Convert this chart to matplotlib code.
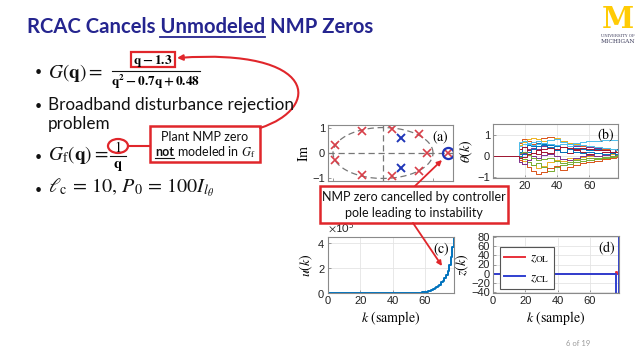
import matplotlib
matplotlib.use('Agg')
import matplotlib.pyplot as plt
from matplotlib.patches import Rectangle, Ellipse, FancyArrowPatch
from matplotlib.path import Path
from matplotlib.lines import Line2D
from matplotlib.transforms import Affine2D
import numpy as np

plt.rcParams['mathtext.fontset'] = 'stix'
plt.rcParams['font.family'] = ['Lato', 'DejaVu Sans']

# ---------------- data ----------------
# (a) pole-zero map
plant_pole_re = [0.35, 0.35]
plant_pole_im = [0.598, -0.598]
plant_zero_re = [1.3]
plant_zero_im = [0.0]
ctrl_pole_re = [-0.96, -0.96, -0.43, -0.43, 0.17, 0.17, 0.71, 0.71, 0.87, 1.3]
ctrl_pole_im = [0.33, -0.27, 0.86, -0.85, 0.95, -0.91, 0.76, -0.72, 0.0, 0.0]

# (b) controller coefficients theta(k), step values at breakpoints
theta_k = [0, 14, 16, 18, 21, 24, 27, 30, 34, 38, 42, 46, 50, 54, 58, 63, 68, 73, 76, 77, 78]
theta_series = [
    [0, 0, 0.2, 0.4, 0.5, 0.45, 0.6, 0.55, 0.5, 0.45, 0.4, 0.3, 0.35, 0.3, 0.25, 0.3, 0.25, 0.2, 0.25, 0.3, 1.3],
    [0, 0, 0.6, 0.8, 0.7, 0.55, 0.7, 0.85, 0.9, 0.8, 0.7, 0.6, 0.5, 0.45, 0.4, 0.35, 0.3, 0.3, 0.25, 0.2, -0.9],
    [0, 0, -0.1, -0.25, -0.3, -0.45, -0.6, -0.5, -0.3, -0.2, -0.25, -0.1, -0.15, -0.05, 0.0, 0.0, 0.05, 0.1, 0.05, 0.1, 0.5],
    [0, 0, 0.1, 0.15, 0.3, 0.35, 0.3, 0.45, 0.55, 0.5, 0.4, 0.3, 0.45, 0.5, 0.4, 0.35, 0.35, 0.3, 0.25, 0.25, -0.4],
    [0, 0, -0.05, -0.15, -0.3, -0.45, -0.35, -0.55, -0.7, -0.55, -0.45, -0.4, -0.3, -0.25, -0.2, -0.15, -0.1, -0.05, 0.0, 0.0, 0.7],
    [0, 0, 0.45, 0.55, 0.6, 0.5, 0.55, 0.6, 0.55, 0.5, 0.55, 0.45, 0.5, 0.65, 0.7, 0.72, 0.75, 0.75, 0.75, 0.75, 0.75],
    [0, 0, 0.3, 0.4, 0.25, 0.15, 0.1, 0.3, 0.35, 0.25, 0.2, 0.15, 0.25, 0.2, 0.1, 0.15, 0.2, 0.15, 0.1, 0.1, -0.6],
    [0, 0, 0.0, 0.1, 0.2, 0.3, 0.45, 0.5, 0.4, 0.25, 0.2, 0.3, 0.2, 0.15, 0.2, 0.15, 0.1, 0.15, 0.1, 0.1, 0.9],
    [0, 0, -0.2, -0.4, -0.55, -0.7, -0.85, -0.75, -0.6, -0.5, -0.65, -0.55, -0.45, -0.35, -0.3, -0.25, -0.15, -0.1, -0.1, -0.05, 0.3],
    [0, 0, 0.5, 0.65, 0.8, 0.85, 0.8, 0.7, 0.75, 0.85, 0.7, 0.6, 0.55, 0.5, 0.45, 0.4, 0.35, 0.3, 0.3, 0.25, 1.1],
    [0, 0, -0.3, -0.4, -0.2, 0.0, -0.1, 0.05, 0.1, 0.0, -0.15, -0.2, -0.1, 0.0, 0.05, 0.0, 0.05, 0.0, 0.05, 0.05, -0.7],
    [0, 0, 0.15, 0.2, 0.05, -0.1, -0.2, -0.15, -0.1, -0.25, -0.35, -0.3, -0.2, -0.15, -0.1, -0.1, -0.05, 0.0, 0.0, 0.05, 0.2],
    [0, 0, 0.65, 0.7, 0.55, 0.65, 0.7, 0.6, 0.75, 0.8, 0.65, 0.55, 0.6, 0.5, 0.45, 0.4, 0.35, 0.3, 0.3, 0.25, -0.3],
    [0, 0, -0.1, -0.05, 0.1, 0.15, 0.25, 0.2, 0.15, 0.3, 0.4, 0.35, 0.3, 0.35, 0.3, 0.25, 0.25, 0.2, 0.2, 0.2, 0.5],
]

# (c) control input u(k)
u_k = [0, 50, 52, 54, 56, 58, 60, 61, 62, 63, 64, 65, 66, 67, 68, 69, 70,
       71, 72, 73, 74, 75, 76, 77, 78]
u_val = [0, 0, 2000, 3000, 4000, 6000, 9000, 12000, 15000, 19000, 24000, 30000,
         37000, 45000, 55000, 68000, 85000, 100000, 120000, 145000, 180000,
         225000, 290000, 370000, 450000]

# (d) performance z(k)
z_k = [0, 75, 76, 77, 78]
z_ol = [0, 0, 3, 0, 0]
z_cl = [0, 0, -45, -45, 85]

matlab_colors = ['#0072BD', '#D95319', '#EDB120', '#7E2F8E', '#77AC30', '#4DBEEE', '#A2142F']

# ---------------- figure ----------------
W, H = 638, 359
fig = plt.figure(figsize=(W / 100, H / 100), dpi=100)
fig.patch.set_facecolor('white')
tpx = Affine2D().scale(1, -1).translate(0, H)  # pixel coords, y from top

RED = '#E0262B'
TITLE = '#25258F'

def axrect(l, t, r, b):
    return [l / W, 1 - b / H, (r - l) / W, (b - t) / H]

def style(ax, grid=True):
    for s in ax.spines.values():
        s.set_color('#8a8a8a')
        s.set_linewidth(0.8)
    ax.tick_params(direction='in', length=2.5, width=0.6, colors='#8a8a8a',
                   labelcolor='#222222', labelsize=8, pad=2)
    for lab in ax.get_xticklabels() + ax.get_yticklabels():
        lab.set_family('Liberation Sans')
    if grid:
        ax.grid(True, color='#e4e4e4', lw=0.6)
        ax.set_axisbelow(True)

lblkw = dict(fontsize=10)

# (a)
axa = fig.add_axes(axrect(328, 125, 453, 181))
tt = np.linspace(0, 2 * np.pi, 200)
axa.plot(np.cos(tt), np.sin(tt), ls=(0, (5, 3)), color='#777777', lw=0.9)
axa.axhline(0, ls=(0, (5, 3)), color='#777777', lw=0.9)
axa.axvline(0, ls=(0, (5, 3)), color='#777777', lw=0.9)
axa.plot(ctrl_pole_re, ctrl_pole_im, 'x', color='#D8404A', ms=6, mew=1.2)
axa.plot(plant_pole_re, plant_pole_im, 'x', color='#2036B8', ms=6, mew=1.4)
axa.plot(plant_zero_re, plant_zero_im, 'o', mfc='none', mec='#2036B8', ms=8, mew=1.6)
axa.set_xlim(-1.1, 1.4)
axa.set_ylim(-1.1, 1.1)
axa.set_yticks([-1, 0, 1])
axa.set_xticks([-1, 0, 1])
style(axa, grid=False)
axa.tick_params(axis='x', labelbottom=False)
axa.set_ylabel(r'$\mathrm{Im}$', labelpad=2, **lblkw)
axa.text(0.97, 0.93, r'$\mathrm{(a)}$', transform=axa.transAxes, ha='right', va='top', fontsize=10)

# (b)
axb = fig.add_axes(axrect(493, 124, 618, 178))
for i, s in enumerate(theta_series):
    axb.plot(theta_k, s, drawstyle='steps-post', color=matlab_colors[i % 7], lw=0.7)
axb.set_xlim(0, 78)
axb.set_ylim(-1.05, 1.5)
axb.set_yticks([-1, 0, 1])
axb.set_xticks([20, 40, 60])
style(axb)
axb.set_ylabel(r'$\theta(k)$', labelpad=2, **lblkw)
axb.text(0.97, 0.95, r'$\mathrm{(b)}$', transform=axb.transAxes, ha='right', va='top', fontsize=10)

# (c)
axc = fig.add_axes(axrect(328, 237, 454, 293))
axc.plot(u_k, u_val, drawstyle='steps-post', color='#0072BD', lw=1.4)
axc.set_xlim(0, 78)
axc.set_ylim(0, 450000)
axc.set_yticks([0, 200000, 400000])
axc.set_xticks([0, 20, 40, 60])
axc.ticklabel_format(axis='y', style='sci', scilimits=(0, 0), useMathText=True)
style(axc)
axc.yaxis.get_offset_text().set_fontsize(8)
axc.set_ylabel(r'$u(k)$', labelpad=2, **lblkw)
axc.set_xlabel(r'$k\ \mathrm{(sample)}$', labelpad=2, **lblkw)
axc.text(0.97, 0.93, r'$\mathrm{(c)}$', transform=axc.transAxes, ha='right', va='top', fontsize=10)

# (d)
axd = fig.add_axes(axrect(493, 236, 619, 293))
axd.plot(z_k, z_ol, drawstyle='steps-post', color='#E8303A', lw=1.4, label=r'$z_{\mathrm{OL}}$')
axd.plot(z_k, z_cl, drawstyle='steps-post', color='#3040D0', lw=1.4, label=r'$z_{\mathrm{CL}}$')
axd.set_xlim(0, 78)
axd.set_ylim(-42, 82)
axd.set_yticks([-40, -20, 0, 20, 40, 60, 80])
axd.set_xticks([0, 20, 40, 60])
style(axd)
axd.set_ylabel(r'$z(k)$', labelpad=0, **lblkw)
axd.set_xlabel(r'$k\ \mathrm{(sample)}$', labelpad=2, **lblkw)
axd.text(0.97, 0.93, r'$\mathrm{(d)}$', transform=axd.transAxes, ha='right', va='top', fontsize=10)
leg = axd.legend(loc='upper left', bbox_to_anchor=(0.055, 0.80), fontsize=9.5,
                 fancybox=False, edgecolor='#555555', framealpha=1,
                 handlelength=1.6, handletextpad=0.4, labelspacing=0.45,
                 borderaxespad=0, borderpad=0.3)
leg.get_frame().set_linewidth(0.8)

# ---------------- slide text ----------------
def T(x, y, s, **kw):
    kw.setdefault('transform', tpx)
    return fig.text(x, y, s, **kw)

# title with underlined word
title_kw = dict(fontsize=14.6, fontweight='bold', color=TITLE, va='baseline', ha='left')
T(27, 33, 'RCAC Cancels Unmodeled NMP Zeros', **title_kw)
renderer = fig.canvas.get_renderer()
def width(s, **kw):
    t = T(0, 0, s, **kw)
    w = t.get_window_extent(renderer).width
    t.remove()
    return w
x_u0 = 27 + width('RCAC Cancels ', **title_kw)
x_u1 = 27 + width('RCAC Cancels Unmodeled', **title_kw)
fig.add_artist(Line2D([x_u0, x_u1], [36.5, 36.5], transform=tpx, color=TITLE, lw=1.3))

# logo
T(618, 19, 'M', fontsize=21, fontweight='bold', family='DejaVu Serif', color='#FFCB05',
  ha='center', va='center')
T(618, 36, 'UNIVERSITY OF', fontsize=2.8, family='DejaVu Serif', color='#3a3a5a', ha='center', va='center')
T(618, 41.5, 'MICHIGAN', fontsize=4.2, family='DejaVu Serif', color='#3a3a5a', ha='center', va='center')

bkw = dict(fontsize=12.3, color='#111111', va='center')
dot = dict(fontsize=9, color='#111111', va='center', ha='center')
mkw = dict(fontsize=14, color='#111111', va='center')
T(38, 72, '•', **dot)
T(48, 73, r'$G(\mathbf{q})=$', **mkw)
T(153, 61, r'$\mathbf{q-1.3}$', fontsize=9.5, ha='center', va='center')
fig.add_artist(Line2D([112, 200], [71, 71], transform=tpx, color='#111111', lw=0.8))
T(156, 82, r'$\mathbf{q^2-0.7q+0.48}$', fontsize=9.5, ha='center', va='center')

T(38, 106, '•', **dot)
T(48, 105, 'Broadband disturbance rejection', **bkw)
T(48, 124, 'problem', **bkw)

T(38, 157, '•', **dot)
T(48, 155, r'$G_{\mathrm{f}}(\mathbf{q})=$', **mkw)
T(118, 146, r'$1$', fontsize=10, ha='center', va='center')
fig.add_artist(Line2D([110, 126], [156, 156], transform=tpx, color='#111111', lw=0.8))
T(118, 166, r'$\mathbf{q}$', fontsize=10.5, ha='center', va='center')

T(38, 190, '•', **dot)
T(48, 188, r'$\ell_{\mathrm{c}}\,=\,10,\,P_0\,=\,100I_{l_\theta}$', fontsize=14.5, color='#111111', va='center')

# red annotations 1
fig.add_artist(Rectangle((131, 52), 44, 15, transform=tpx, fill=False, ec=RED, lw=1.6))
fig.add_artist(Ellipse((118, 146), 20, 14, transform=tpx, fill=False, ec=RED, lw=1.6))
fig.add_artist(Line2D([128, 150], [146, 146], transform=tpx, color=RED, lw=1.5))
fig.add_artist(Rectangle((150, 126), 110, 36, transform=tpx, fc='white', ec=RED, lw=1.8))
ckw = dict(fontsize=9, color='#111111', va='center')
T(205, 137, 'Plant NMP zero', ha='center', **ckw)
w_not = width('not', fontweight='bold', **ckw)
w_rest = width(' modeled in $G_{\\mathrm{f}}$', **ckw)
x0 = 205 - (w_not + w_rest) / 2
T(x0, 152, 'not', fontweight='bold', ha='left', **ckw)
T(x0 + w_not, 152, ' modeled in $G_{\\mathrm{f}}$', ha='left', **ckw)
fig.add_artist(Line2D([x0, x0 + w_not], [157.5, 157.5], transform=tpx, color='#111111', lw=0.8))

curve = Path([(260, 128), (322, 108), (318, 48), (177, 58)],
             [Path.MOVETO, Path.CURVE4, Path.CURVE4, Path.CURVE4])
fig.add_artist(FancyArrowPatch(path=curve, transform=tpx, arrowstyle='-|>',
                               mutation_scale=8, color=RED, lw=1.5))

# red annotations 2
fig.add_artist(Rectangle((320, 186), 188, 37, transform=tpx, fc='white', ec=RED, lw=1.8))
T(414, 197, 'NMP zero cancelled by controller', ha='center', **ckw)
T(414, 213, 'pole leading to instability', ha='center', **ckw)
fig.add_artist(FancyArrowPatch((415, 186), (442, 160), transform=tpx, arrowstyle='-|>',
                               mutation_scale=7, color=RED, lw=1.3, shrinkA=0, shrinkB=0))
fig.add_artist(FancyArrowPatch((413, 223), (442, 266), transform=tpx, arrowstyle='-|>',
                               mutation_scale=7, color=RED, lw=1.3, shrinkA=0, shrinkB=0))

T(578, 343, '6 of 19', fontsize=5.5, color='#9a9a9a', ha='center', va='center')

fig.savefig('out.png', dpi=100)
